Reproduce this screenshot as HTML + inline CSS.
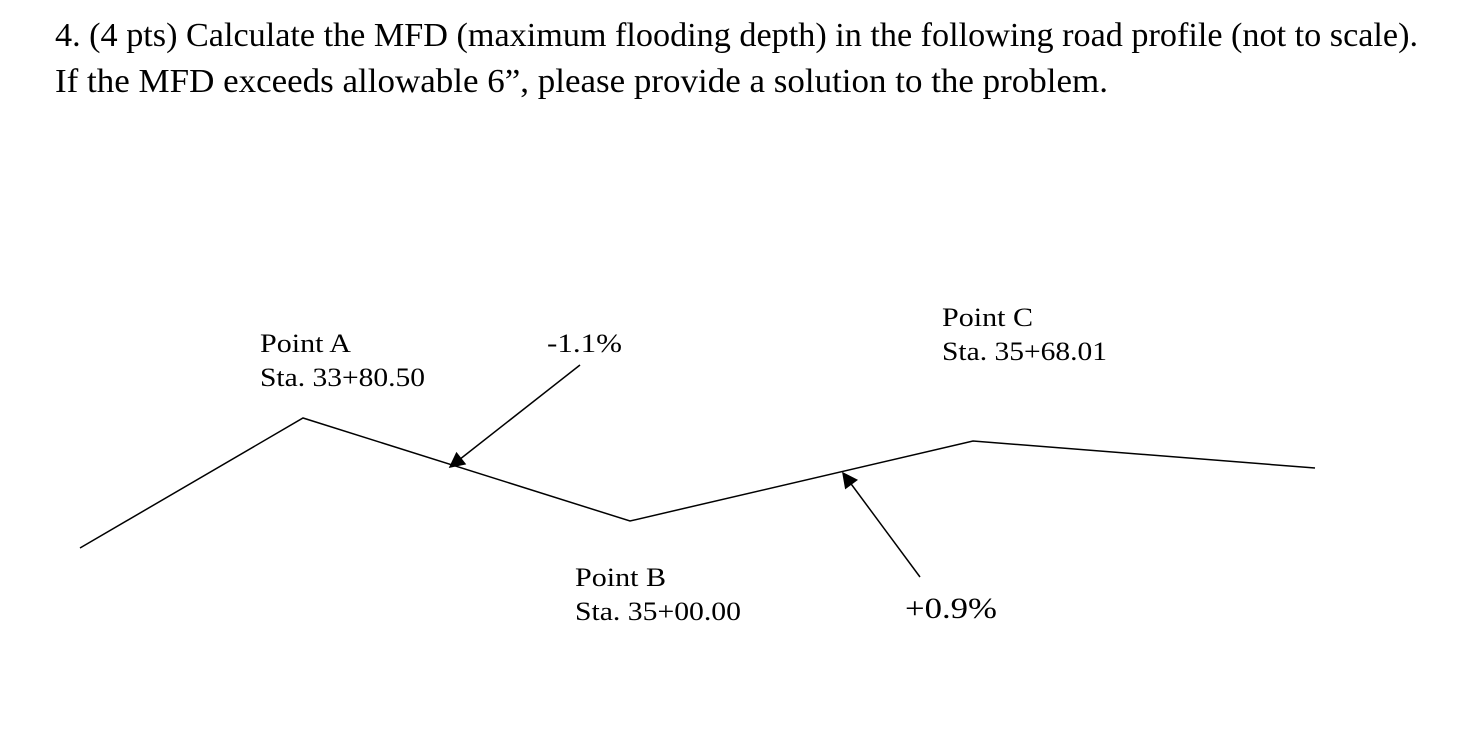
<!DOCTYPE html>
<html><head><meta charset="utf-8"><style>
html,body{margin:0;padding:0;background:#fff;}
svg{display:block;font-family:"Liberation Serif",serif;}
</style></head><body>
<svg width="1465" height="746" viewBox="0 0 1465 746" xmlns="http://www.w3.org/2000/svg">
<defs>
<marker id="ah" viewBox="0 0 10 10" refX="9" refY="5" markerWidth="20" markerHeight="16" orient="auto-start-reverse" markerUnits="userSpaceOnUse">
<path d="M0,0 L10,5 L0,10 z" fill="#000"/>
</marker>
</defs>
<rect width="1465" height="746" fill="#fff"/>
<text x="55" y="46" font-size="34" textLength="1363" lengthAdjust="spacingAndGlyphs">4. (4 pts) Calculate the MFD (maximum flooding depth) in the following road profile (not to scale).</text>
<text x="55" y="92" font-size="34" textLength="1053" lengthAdjust="spacingAndGlyphs">If the MFD exceeds allowable 6”, please provide a solution to the problem.</text>
<g id="profile"></g>
<line x1="580" y1="365" x2="450" y2="467" stroke="#000" stroke-width="1.5" marker-end="url(#ah)"/>
<line x1="920" y1="577" x2="843" y2="473" stroke="#000" stroke-width="1.5" marker-end="url(#ah)"/>
<g font-size="26">
<text x="260" y="352" textLength="91" lengthAdjust="spacingAndGlyphs">Point A</text>
<text x="260" y="386" textLength="165" lengthAdjust="spacingAndGlyphs">Sta. 33+80.50</text>
<text x="547" y="352" textLength="75" lengthAdjust="spacingAndGlyphs">-1.1%</text>
<text x="942" y="326" textLength="91" lengthAdjust="spacingAndGlyphs">Point C</text>
<text x="942" y="360" textLength="165" lengthAdjust="spacingAndGlyphs">Sta. 35+68.01</text>
<text x="575" y="586" textLength="91" lengthAdjust="spacingAndGlyphs">Point B</text>
<text x="575" y="620" textLength="166" lengthAdjust="spacingAndGlyphs">Sta. 35+00.00</text>
</g>
<text x="905" y="618" font-size="30" textLength="92" lengthAdjust="spacingAndGlyphs">+0.9%</text>
</svg>
<script>
const profileX = [80, 303, 630, 973, 1315];
const profileY = [548, 418, 521, 441, 468];
const g = document.getElementById('profile');
const pl = document.createElementNS('http://www.w3.org/2000/svg','polyline');


pl.setAttribute('points', profileX.map((x,i)=>x+','+profileY[i]).join(' '));
pl.setAttribute('fill','none');
pl.setAttribute('stroke','#000');
pl.setAttribute('stroke-width','1.5');
g.appendChild(pl);
</script>
</body></html>
